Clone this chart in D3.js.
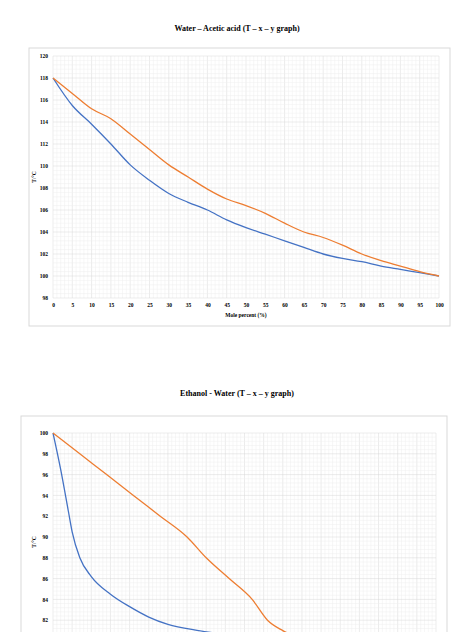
<!DOCTYPE html><html><head><meta charset="utf-8"><script src="https://cdn.jsdelivr.net/npm/d3@7"></script>
<style>body{margin:0;background:#fff;overflow:hidden}svg{display:block}text{font-family:"Liberation Serif",serif;font-weight:bold}</style></head><body>
<script>
const x1=[0,5,10,15,20,25,30,35,40,45,50,55,60,65,70,75,80,85,90,95,100];
const liquid1=[118,115.5,113.8,112.0,110.1,108.7,107.5,106.7,106.0,105.1,104.4,103.8,103.2,102.6,102.0,101.6,101.3,100.9,100.6,100.3,100];
const vapour1=[118,116.6,115.2,114.3,112.9,111.5,110.1,109.0,107.9,107.0,106.4,105.7,104.8,104.0,103.5,102.8,102.0,101.4,100.9,100.4,100];
const liquid2X=[0,2,4,5,7,10,15,20,25,30,38,50,60,70,80,89];
const liquid2=[100,96.5,92.5,90.5,88,86.2,84.5,83.3,82.3,81.6,81,80.4,79.8,79.3,78.8,78.2];
const vapour2X=[0,7,14,21,28,35,40,46,52,56,60,65,70,80,89];
const vapour2=[100,98,96,94,92,90,88,86,84,82,81,80.2,79.7,79,78.2];
const title1="Water – Acetic acid (T – x – y graph)";
const title2="Ethanol - Water (T – x – y graph)";

const svg=d3.select("body").append("svg").attr("width",474).attr("height",632);
function chart(o){
  const g=svg.append("g");
  g.append("rect").attr("x",o.fx).attr("y",o.fy).attr("width",o.fw).attr("height",o.fh).attr("fill","#fff").attr("stroke","#d9d9d9");
  g.append("text").attr("x",237).attr("y",o.ty).attr("text-anchor","middle").attr("font-size",8).text(o.title);
  const x=d3.scaleLinear().domain([0,100]).range([53,o.xr]);
  const y=d3.scaleLinear().domain(o.yd).range(o.yr);
  const [y0,y1]=o.yd;
  for(let v=0;v<=100;v+=1) g.append("line").attr("x1",x(v)).attr("x2",x(v)).attr("y1",y(y0)).attr("y2",y(y1)).attr("stroke",v%5?"#eeeeee":"#d9d9d9").attr("stroke-width",0.5);
  for(let i=0;i<=(y1-y0)/0.4+0.01;i++){const v=y0+i*0.4;const maj=Math.abs(v/2-Math.round(v/2))<0.01;
    g.append("line").attr("x1",x(0)).attr("x2",x(100)).attr("y1",y(v)).attr("y2",y(v)).attr("stroke",maj?"#d9d9d9":"#eeeeee").attr("stroke-width",0.5);}
  const yt=d3.range(y0,y1+0.01,2).filter(v=>y(v)<626);
  const ya=g.append("g").attr("transform","translate(53,0)").call(d3.axisLeft(y).tickValues(yt).tickSize(0).tickPadding(5));
  ya.select(".domain").remove();ya.selectAll("text").attr("font-size",5.5).attr("font-family","Liberation Serif").attr("font-weight","bold");
  if(o.xl){
  const xa=g.append("g").attr("transform",`translate(0,${y(y0)})`).call(d3.axisBottom(x).tickValues(d3.range(0,101,5)).tickSize(0).tickPadding(5));
  xa.select(".domain").remove();xa.selectAll("text").attr("font-size",5.5).attr("font-family","Liberation Serif").attr("font-weight","bold");
  g.append("text").attr("x",(53+o.xr)/2).attr("y",y(y0)+19).attr("text-anchor","middle").attr("font-size",5.5).text("Mole percent (%)");}
  g.append("text").attr("transform",`translate(36,${o.ly0}) rotate(-90)`).attr("text-anchor","middle").attr("font-size",5.5).text("T/°C");
  const line=d3.line().x(d=>x(d[0])).y(d=>y(d[1])).curve(d3.curveMonotoneX);
  g.append("path").attr("d",line(d3.zip(o.lx,o.ly))).attr("fill","none").attr("stroke","#4472c4").attr("stroke-width",1.3);
  g.append("path").attr("d",line(d3.zip(o.vx,o.vy))).attr("fill","none").attr("stroke","#ed7d31").attr("stroke-width",1.3);
}
chart({fx:29,fy:48,fw:421,fh:278,ty:31,title:title1,xr:439,yd:[98,120],yr:[298,56],xl:true,ly0:177,lx:x1,ly:liquid1,vx:x1,vy:vapour1});
chart({fx:21,fy:416,fw:426,fh:260,ty:396,title:title2,xr:436,yd:[78,100],yr:[433+22*10.4,433],xl:false,ly0:542,lx:liquid2X,ly:liquid2,vx:vapour2X,vy:vapour2});
</script></body></html>
